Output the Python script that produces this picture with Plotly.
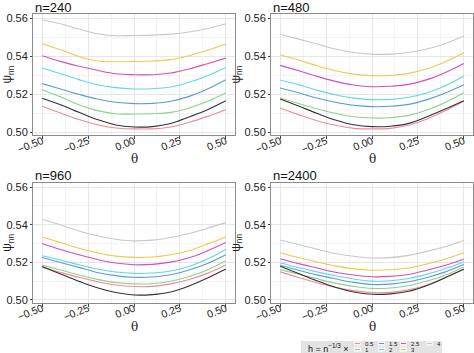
import plotly.graph_objects as go

theta = [-0.5, -0.4, -0.3, -0.2, -0.1, 0.0, 0.1, 0.2, 0.3, 0.4, 0.5]
h_labels = ["0.5", "1", "1.5", "2", "2.5", "3", "4"]
h_colors = ["#ef8a9a", "#8fd18f", "#5b9bd5", "#62d6e6", "#d24fc0", "#f0c850", "#c8c8c8"]
truth_color = "#333333"
panel_titles = ["n=240", "n=480", "n=960", "n=2400"]

# psi_nn curves per panel: h = 0.5, 1, 1.5, 2, 2.5, 3, 4, then the black reference curve
n240 = {
    "0.5": [0.5137, 0.5102, 0.5067, 0.5040, 0.5023, 0.5018, 0.5018, 0.5028, 0.5053, 0.5084, 0.5119],
    "1":   [0.5224, 0.5186, 0.5145, 0.5114, 0.5098, 0.5096, 0.5098, 0.5105, 0.5128, 0.5163, 0.5207],
    "1.5": [0.5256, 0.5228, 0.5200, 0.5175, 0.5158, 0.5151, 0.5152, 0.5163, 0.5189, 0.5228, 0.5277],
    "2":   [0.5338, 0.5308, 0.5277, 0.5250, 0.5235, 0.5228, 0.5229, 0.5238, 0.5263, 0.5298, 0.5341],
    "2.5": [0.5403, 0.5373, 0.5347, 0.5326, 0.5308, 0.5303, 0.5303, 0.5312, 0.5333, 0.5361, 0.5390],
    "3":   [0.5466, 0.5434, 0.5399, 0.5375, 0.5371, 0.5373, 0.5375, 0.5382, 0.5403, 0.5431, 0.5464],
    "4":   [0.5592, 0.5571, 0.5543, 0.5518, 0.5508, 0.5509, 0.5511, 0.5516, 0.5527, 0.5546, 0.5571],
    "truth": [0.5179, 0.5145, 0.5105, 0.5067, 0.5039, 0.5028, 0.5030, 0.5046, 0.5081, 0.5119, 0.5166],
}
n480 = {
    "0.5": [0.5128, 0.5093, 0.5061, 0.5037, 0.5021, 0.5018, 0.5021, 0.5037, 0.5070, 0.5114, 0.5163],
    "1":   [0.5180, 0.5152, 0.5124, 0.5100, 0.5082, 0.5075, 0.5077, 0.5089, 0.5117, 0.5158, 0.5208],
    "1.5": [0.5233, 0.5208, 0.5180, 0.5158, 0.5142, 0.5135, 0.5137, 0.5147, 0.5172, 0.5207, 0.5250],
    "2":   [0.5275, 0.5250, 0.5222, 0.5198, 0.5180, 0.5172, 0.5173, 0.5184, 0.5208, 0.5245, 0.5296],
    "2.5": [0.5352, 0.5324, 0.5294, 0.5268, 0.5249, 0.5240, 0.5242, 0.5252, 0.5277, 0.5315, 0.5362],
    "3":   [0.5408, 0.5380, 0.5350, 0.5324, 0.5306, 0.5298, 0.5299, 0.5310, 0.5334, 0.5371, 0.5418],
    "4":   [0.5516, 0.5490, 0.5464, 0.5438, 0.5420, 0.5411, 0.5411, 0.5420, 0.5438, 0.5467, 0.5506],
    "truth": [0.5175, 0.5138, 0.5100, 0.5065, 0.5040, 0.5030, 0.5032, 0.5047, 0.5082, 0.5123, 0.5166],
}
n960 = {
    "0.5": [0.5173, 0.5146, 0.5120, 0.5097, 0.5079, 0.5071, 0.5072, 0.5085, 0.5108, 0.5141, 0.5185],
    "1":   [0.5185, 0.5159, 0.5132, 0.5109, 0.5092, 0.5085, 0.5086, 0.5099, 0.5124, 0.5159, 0.5208],
    "1.5": [0.5226, 0.5199, 0.5173, 0.5146, 0.5129, 0.5120, 0.5122, 0.5134, 0.5159, 0.5194, 0.5240],
    "2":   [0.5235, 0.5212, 0.5187, 0.5164, 0.5148, 0.5141, 0.5143, 0.5154, 0.5178, 0.5217, 0.5268],
    "2.5": [0.5300, 0.5268, 0.5240, 0.5215, 0.5196, 0.5187, 0.5189, 0.5201, 0.5224, 0.5261, 0.5305],
    "3":   [0.5335, 0.5305, 0.5275, 0.5251, 0.5233, 0.5226, 0.5228, 0.5240, 0.5261, 0.5297, 0.5335],
    "4":   [0.5429, 0.5399, 0.5367, 0.5341, 0.5323, 0.5314, 0.5318, 0.5332, 0.5353, 0.5381, 0.5411],
    "truth": [0.5177, 0.5138, 0.5099, 0.5064, 0.5039, 0.5026, 0.5028, 0.5042, 0.5074, 0.5116, 0.5164],
}
n2400 = {
    "0.5": [0.5149, 0.5119, 0.5091, 0.5067, 0.5049, 0.5039, 0.5040, 0.5053, 0.5079, 0.5119, 0.5165],
    "1":   [0.5161, 0.5137, 0.5112, 0.5089, 0.5072, 0.5061, 0.5063, 0.5075, 0.5100, 0.5132, 0.5175],
    "1.5": [0.5184, 0.5158, 0.5133, 0.5112, 0.5093, 0.5082, 0.5084, 0.5096, 0.5119, 0.5149, 0.5188],
    "2":   [0.5198, 0.5172, 0.5149, 0.5128, 0.5111, 0.5100, 0.5102, 0.5114, 0.5137, 0.5167, 0.5202],
    "2.5": [0.5219, 0.5193, 0.5170, 0.5147, 0.5132, 0.5123, 0.5125, 0.5135, 0.5158, 0.5184, 0.5216],
    "3":   [0.5251, 0.5225, 0.5202, 0.5181, 0.5165, 0.5158, 0.5160, 0.5170, 0.5191, 0.5218, 0.5251],
    "4":   [0.5319, 0.5295, 0.5270, 0.5247, 0.5232, 0.5223, 0.5225, 0.5237, 0.5258, 0.5284, 0.5316],
    "truth": [0.5179, 0.5140, 0.5102, 0.5067, 0.5042, 0.5030, 0.5032, 0.5046, 0.5077, 0.5119, 0.5163],
}
panels = [n240, n480, n960, n2400]

x_ticks = [-0.50, -0.25, 0.00, 0.25, 0.50]
x_tick_text = ["\u22120.50", "\u22120.25", "0.00", "0.25", "0.50"]
y_ticks = [0.50, 0.52, 0.54, 0.56]
y_tick_text = ["0.50", "0.52", "0.54", "0.56"]

W, H = 474, 353
FONT = "Liberation Sans, Arial, sans-serif"

def px(x):
    return x / W

def py(y):
    return 1 - y / H

x_domains = [[px(33), px(235)], [px(271), px(473)]]
y_domains = [[py(135), py(14)], [py(302.5), py(183)]]

fig = go.Figure()
layout = dict(
    width=W, height=H,
    margin=dict(l=0, r=0, t=0, b=0, pad=0, autoexpand=False),
    paper_bgcolor="white", plot_bgcolor="white",
    showlegend=False,
    font=dict(family=FONT, size=11, color="#222222"),
)

annotations = []
shapes = []
for i, data in enumerate(panels):
    row, col = divmod(i, 2)
    k = "" if i == 0 else str(i + 1)
    xa, ya = "x" + k, "y" + k
    for lab, colr in zip(h_labels, h_colors):
        fig.add_trace(go.Scatter(x=theta, y=data[lab], mode="lines", name=lab,
                                 line=dict(color=colr, width=1.1, shape="spline", smoothing=1.0),
                                 xaxis=xa, yaxis=ya, hoverinfo="skip"))
    fig.add_trace(go.Scatter(x=theta, y=data["truth"], mode="lines", name="truth",
                             line=dict(color=truth_color, width=1.1, shape="spline", smoothing=1.0),
                             xaxis=xa, yaxis=ya, hoverinfo="skip"))
    layout["xaxis" + k] = dict(
        domain=x_domains[col], anchor=ya, range=[-0.55, 0.55], automargin=False,
        tickvals=x_ticks, ticktext=x_tick_text, tickangle=-22, ticklabelstandoff=-8,
        tickfont=dict(size=10.5, color="#222222"),
        ticks="outside", ticklen=3, tickcolor="#444444",
        showgrid=True, gridcolor="#e6e6e6", gridwidth=1,
        minor=dict(tickvals=[-0.375, -0.125, 0.125, 0.375], showgrid=True,
                   gridcolor="#f3f3f3", gridwidth=0.6, ticks=""),
        showline=True, linecolor="#8c8c8c", linewidth=1, mirror=True,
        zeroline=False,
    )
    layout["yaxis" + k] = dict(
        domain=y_domains[row], anchor=xa, range=[0.4986, 0.5622], automargin=False,
        tickvals=y_ticks, ticktext=y_tick_text,
        tickfont=dict(size=11, color="#222222"),
        ticks="outside", ticklen=2, tickcolor="#444444",
        showgrid=True, gridcolor="#e6e6e6", gridwidth=1,
        minor=dict(tickvals=[0.51, 0.53, 0.55], showgrid=True,
                   gridcolor="#f3f3f3", gridwidth=0.6, ticks=""),
        showline=True, linecolor="#8c8c8c", linewidth=1, mirror=True,
        zeroline=False,
        title=dict(text="\u03c8<sub>nn</sub>", font=dict(size=12, color="#222222"), standoff=1),
    )
    tx = 33 if col == 0 else 271
    ty = 7.5 if row == 0 else 175.5
    annotations.append(dict(text=panel_titles[i], x=px(tx), y=py(ty), xref="paper", yref="paper",
                            xanchor="left", yanchor="middle", showarrow=False,
                            font=dict(size=13, color="#111111")))
    # x-axis title (theta)
    cx = (x_domains[col][0] + x_domains[col][1]) / 2
    tyy = 159 if row == 0 else 327
    annotations.append(dict(text="\u03b8", x=cx, y=py(tyy), xref="paper", yref="paper",
                            xanchor="center", yanchor="middle", showarrow=False,
                            font=dict(size=12, color="#222222", family="DejaVu Serif, serif")))

# manual compact legend (bottom right)
shapes.append(dict(type="rect", xref="paper", yref="paper",
                   x0=px(301), x1=px(442), y0=py(356), y1=py(341),
                   fillcolor="#e3e3e3", line=dict(width=0), layer="above"))
annotations.append(dict(text="h = n<sup>\u22121/3</sup> \u00d7", x=px(306), y=py(347.5),
                        xref="paper", yref="paper", xanchor="left", yanchor="middle",
                        showarrow=False, font=dict(size=9, color="#111111")))
key_cols = [355, 379, 401, 427]
order = [(0, 0), (0, 1), (1, 0), (1, 1), (2, 0), (2, 1), (3, 0)]
for idx, (c, r) in enumerate(order):
    kx = key_cols[c]
    ky = 343.5 if r == 0 else 349.5
    shapes.append(dict(type="rect", xref="paper", yref="paper",
                       x0=px(kx - 1), x1=px(kx + 6), y0=py(ky + 2.4), y1=py(ky - 2.4),
                       fillcolor="#f4f4f4", line=dict(width=0), layer="above"))
    shapes.append(dict(type="line", xref="paper", yref="paper",
                       x0=px(kx), x1=px(kx + 5), y0=py(ky), y1=py(ky),
                       line=dict(color=h_colors[idx], width=1), layer="above"))
    annotations.append(dict(text=h_labels[idx], x=px(kx + 8), y=py(ky), xref="paper", yref="paper",
                            xanchor="left", yanchor="middle", showarrow=False,
                            font=dict(size=6, color="#111111")))

layout["annotations"] = annotations
layout["shapes"] = shapes
fig.update_layout(**layout)
fig.write_html("out.html")
